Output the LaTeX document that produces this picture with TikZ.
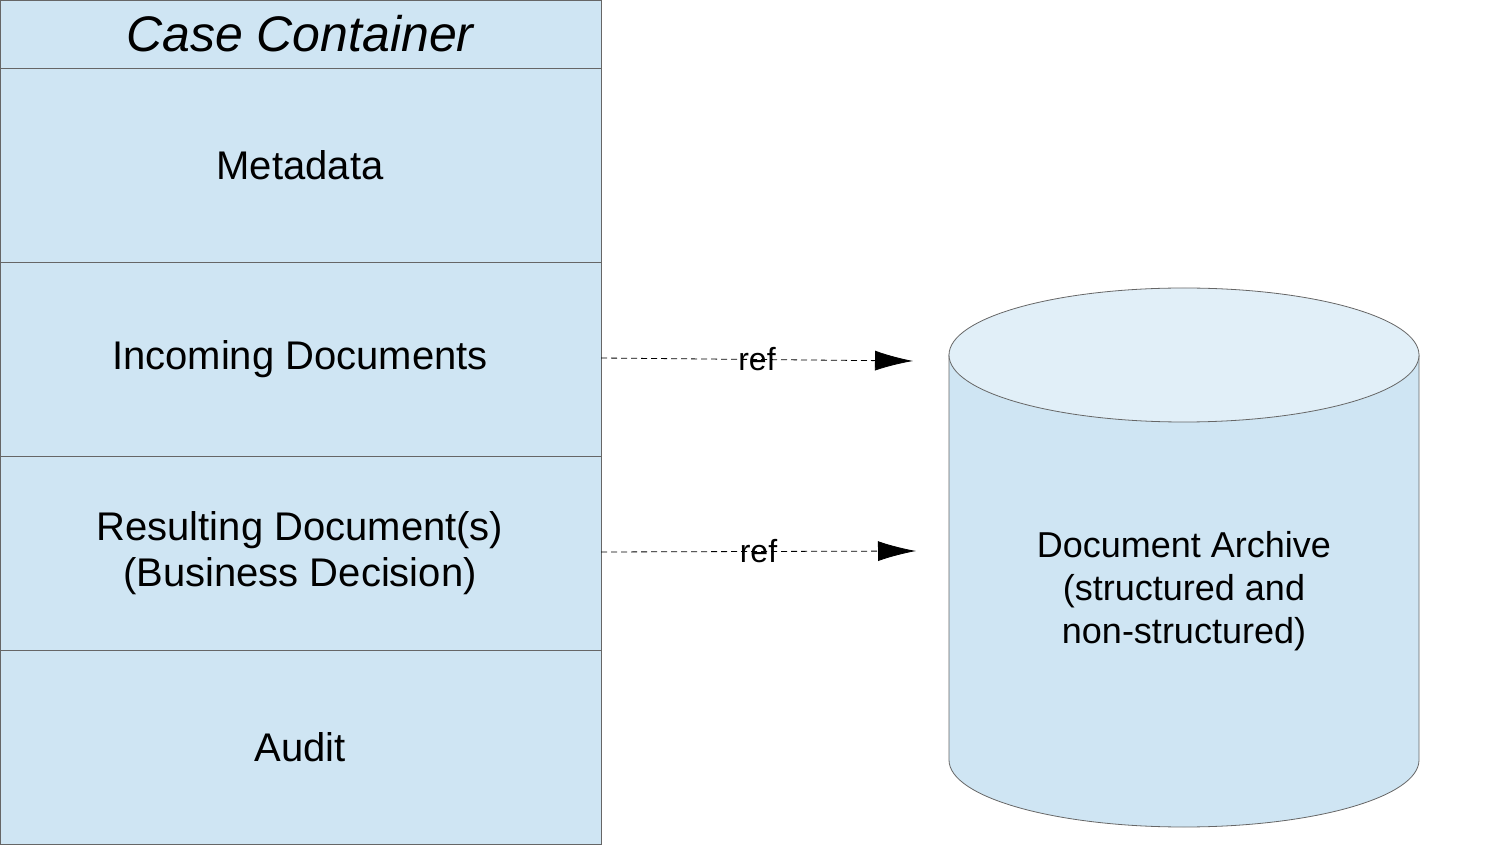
\documentclass[tikz,border=0pt]{standalone}
\usepackage{fontspec}
\setmainfont{Liberation Sans}
\usetikzlibrary{arrows.meta}
\definecolor{boxfill}{HTML}{CFE5F3}
\definecolor{topfill}{HTML}{E1EFF8}
\begin{document}
\begin{tikzpicture}[x=0.5pt,y=-0.5pt,
  row/.style={draw=gray!80!black,line width=0.4pt,fill=boxfill},
  lbl/.style={font=\fontsize{20}{23}\selectfont,align=center},
  refarrow/.style={densely dashed,line width=0.4pt,-{Latex[length=19pt,width=10pt]}}]
\useasboundingbox (0,0) rectangle (1488,860);
\path[row] (0,0) rectangle (601,68);
\path[row] (0,68) rectangle (601,262);
\path[row] (0,262) rectangle (601,456);
\path[row] (0,456) rectangle (601,650);
\path[row] (0,650) rectangle (601,844);
\node[font=\fontsize{25}{28}\itshape\selectfont] (title) at (300,34) {Case Container};
\node[lbl] (meta) at (300,165) {Metadata};
\node[lbl] (inc) at (300,359) {Incoming Documents};
\node[lbl] (res) at (300,553) {Resulting Document(s)\\(Business Decision)};
\node[lbl] (aud) at (300,747) {Audit};
% cylinder
\path[row] (949,355) -- (949,760) arc[start angle=180,end angle=360,x radius=235,y radius=-67] -- (1419,355) -- cycle;
\path[row,fill=topfill] (1184,355) ellipse[x radius=235,y radius=67];
\node[font=\fontsize{18}{21.5}\selectfont,align=center] (arch) at (1184,591) {Document Archive\\(structured and\\non-structured)};
\coordinate (a1s) at (601,358);
\coordinate (a1e) at (913,361);
\coordinate (a2s) at (601,552);
\coordinate (a2e) at (916,551);
\draw[refarrow] (a1s) -- node[pos=0.5,font=\fontsize{16}{19}\selectfont]{ref} (a1e);
\draw[refarrow] (a2s) -- node[pos=0.5,font=\fontsize{16}{19}\selectfont]{ref} (a2e);
\end{tikzpicture}
\end{document}
